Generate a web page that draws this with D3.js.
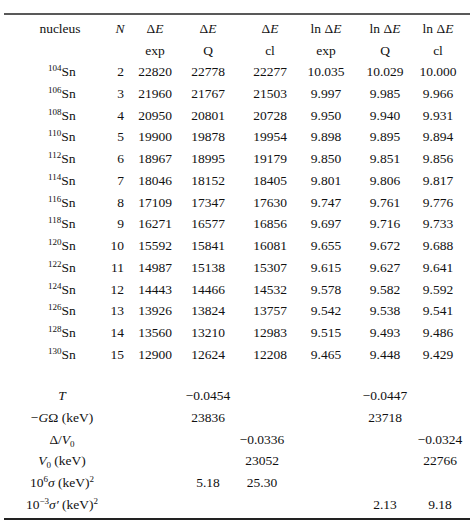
<!DOCTYPE html><html><head><meta charset="utf-8">
<script src="https://cdn.jsdelivr.net/npm/d3@7"></script>
<style>body{margin:0;background:#fff}text{font-family:"Liberation Serif","DejaVu Serif",serif;font-size:13.5px;fill:#111}</style>
</head><body><svg id="c" width="474" height="522"></svg>
<script>
const mass=[104,106,108,110,112,114,116,118,120,122,124,126,128,130];
const N=[2,3,4,5,6,7,8,9,10,11,12,13,14,15];
const dEexp=[22820,21960,20950,19900,18967,18046,17109,16271,15592,14987,14443,13926,13560,12900];
const dEQ=[22778,21767,20801,19878,18995,18152,17347,16577,15841,15138,14466,13824,13210,12624];
const dEcl=[22277,21503,20728,19954,19179,18405,17630,16856,16081,15307,14532,13757,12983,12208];
const lnExp=["10.035","9.997","9.950","9.898","9.850","9.801","9.747","9.697","9.655","9.615","9.578","9.542","9.515","9.465"];
const lnQ=["10.029","9.985","9.940","9.895","9.851","9.806","9.761","9.716","9.672","9.627","9.582","9.538","9.493","9.448"];
const lnCl=["10.000","9.966","9.931","9.894","9.856","9.817","9.776","9.733","9.688","9.641","9.592","9.541","9.486","9.429"];
const head1=["nucleus","N","ΔE","ΔE","ΔE","ln ΔE","ln ΔE","ln ΔE"];
const head2=["","","exp","Q","cl","exp","Q","cl"];
const params=[
 {lab:"<tspan font-style='italic'>T</tspan>",v:[null,"−0.0454",null,null,"−0.0447",null]},
 {lab:"−<tspan font-style='italic'>G</tspan>Ω (keV)",v:[null,"23836",null,null,"23718",null]},
 {lab:"Δ/<tspan font-style='italic'>V</tspan><tspan font-size='9' dy='3'>0</tspan>",v:[null,null,"−0.0336",null,null,"−0.0324"]},
 {lab:"<tspan font-style='italic'>V</tspan><tspan font-size='9' dy='3'>0</tspan><tspan dy='-3'> (keV)</tspan>",v:[null,null,"23052",null,null,"22766"]},
 {lab:"10<tspan font-size='9' dy='-5'>6</tspan><tspan dy='5' font-style='italic'>σ</tspan> (keV)<tspan font-size='9' dy='-5'>2</tspan>",v:[null,"5.18","25.30",null,null,null]},
 {lab:"10<tspan font-size='9' dy='-5'>−3</tspan><tspan dy='5' font-style='italic'>σ′</tspan> (keV)<tspan font-size='9' dy='-5'>2</tspan>",v:[null,null,null,null,"2.13","9.18"]}
];
const svg=d3.select("#c");
const colX=[60,120,155,208,270,326,385,438];
const pX=[155,208,262,326,385,440];
const y=d3.scaleLinear().domain([0,13]).range([76,359]);
const py=d3.scaleLinear().domain([0,5]).range([400,509]);
svg.append("line").attr("x1",4).attr("x2",470).attr("y1",14).attr("y2",14).attr("stroke","#222").attr("stroke-width",1.5);
svg.append("line").attr("x1",4).attr("x2",470).attr("y1",519).attr("y2",519).attr("stroke","#222").attr("stroke-width",2);
head1.forEach((h,i)=>{const t=svg.append("text").attr("x",colX[i]).attr("y",33).attr("text-anchor","middle");
 if(i==1)t.attr("font-style","italic").text(h);
 else if(h.startsWith("ΔE")){t.html("Δ<tspan font-style='italic'>E</tspan>");}
 else if(h.startsWith("ln")){t.html("ln Δ<tspan font-style='italic'>E</tspan>");}
 else t.text(h);});
head2.forEach((h,i)=>svg.append("text").attr("x",colX[i]).attr("y",55).attr("text-anchor","middle").text(h));
mass.forEach((m,r)=>{
 const yy=y(r);
 svg.append("text").attr("x",48).attr("y",yy).html(`<tspan font-size='9' dy='-5'>${m}</tspan><tspan dy='5'>Sn</tspan>`);
 svg.append("text").attr("x",124).attr("y",yy).attr("text-anchor","end").text(N[r]);
 [dEexp[r],dEQ[r],dEcl[r],lnExp[r],lnQ[r],lnCl[r]].forEach((v,c)=>
  svg.append("text").attr("x",colX[c+2]).attr("y",yy).attr("text-anchor","middle").text(v));
});
params.forEach((p,r)=>{
 svg.append("text").attr("x",62).attr("y",py(r)).attr("text-anchor","middle").html(p.lab);
 p.v.forEach((v,c)=>{if(v)svg.append("text").attr("x",pX[c]).attr("y",py(r)).attr("text-anchor","middle").text(v);});
});
</script></body></html>
